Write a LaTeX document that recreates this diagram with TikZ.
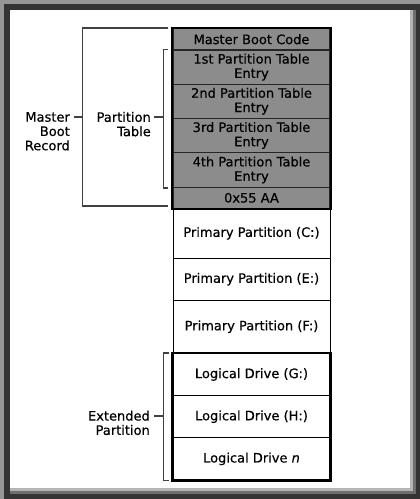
\documentclass[tikz,border=0pt]{standalone}
\usepackage{fontspec}
\setmainfont{DejaVu Sans}[BoldFont=DejaVu Sans,BoldFeatures={FakeBold=0.5},
  BoldItalicFont=DejaVu Sans Oblique,BoldItalicFeatures={FakeBold=0.5}]
\usetikzlibrary{calc,positioning}
\definecolor{DiskGray}{RGB}{140,140,140}
\definecolor{BraceGray}{RGB}{64,64,64}
\definecolor{FrameDark}{RGB}{52,52,52}
\definecolor{FrameMid}{RGB}{110,110,110}
\definecolor{FrameGray}{RGB}{150,150,150}
\definecolor{FrameLight}{RGB}{180,180,180}

\begin{document}
\begin{tikzpicture}[x=1pt,y=-1pt,
    cell/.style={draw=black,line width=1pt,minimum width=157pt,inner sep=0pt,
      align=center,font=\fontsize{13}{14.3}\selectfont\bfseries},
    mbrcell/.style={cell,fill=DiskGray,draw=black!85,line width=1.3pt},
    group/.style={draw=black,line width=2.2pt},
    brk/.style={BraceGray,line width=1.6pt},
    lbl/.style={align=right,inner sep=0pt,font=\fontsize{13}{14.3}\selectfont\bfseries}]
  \useasboundingbox (0,0) rectangle (420,499);
  % frame
  \fill[FrameDark] (0,0) rectangle (420,499);
  \fill[FrameGray] (0,0) rectangle (420,4);
  \fill[FrameGray] (0,0) rectangle (4,499);
  \fill[FrameMid] (10,10) rectangle (416,494);
  \fill[FrameLight] (10,10) rectangle (413,491);
  \fill[white] (10,10) rectangle (410,488);
  % master boot record
  \node[mbrcell,minimum height=21.5pt] (mbc) at (251.5,39.25) {Master Boot Code};
  \node[mbrcell,minimum height=34.3pt] (pte1) at (251.5,67.15) {1st Partition Table\\Entry};
  \node[mbrcell,minimum height=34pt] (pte2) at (251.5,101.3) {2nd Partition Table\\Entry};
  \node[mbrcell,minimum height=34.4pt] (pte3) at (251.5,135.5) {3rd Partition Table\\Entry};
  \node[mbrcell,minimum height=34.6pt] (pte4) at (251.5,170) {4th Partition Table\\Entry};
  \node[mbrcell,minimum height=21pt] (sig) at (251.5,197.8) {0x55 AA};
  % primary partitions
  \node[cell,minimum height=50pt] (pc) at (251.5,233.3) {Primary Partition (C:)};
  \node[cell,minimum height=41.7pt] (pe) at (251.5,279.2) {Primary Partition (E:)};
  \node[cell,minimum height=53.3pt] (pf) at (251.5,326.7) {Primary Partition (F:)};
  % logical drives
  \node[cell,minimum height=42.4pt] (lg) at (251.5,374.5) {Logical Drive (G:)};
  \node[cell,minimum height=42pt] (lh) at (251.5,416.7) {Logical Drive (H:)};
  \node[cell,minimum height=42.3pt] (ln) at (251.5,458.9) {Logical Drive \textit{n}};
  \draw[group] (mbc.north west) rectangle (sig.south east);
  \draw[group] (lg.north west) rectangle (ln.south east);
  % brackets
  \draw[brk] ([xshift=-4pt]mbc.north west) -| ([xshift=-90pt,yshift=3pt]sig.south west)
    -- ([xshift=-4pt,yshift=3pt]sig.south west);
  \coordinate (mbrmid) at (83,117);
  \draw[brk] (mbrmid) -- ++(-9,0) coordinate (mbrend);
  \node[lbl,anchor=east] (mbr) at ([xshift=-4pt,yshift=-14.3pt]mbrend) {Master\\Boot\\Record};
  \draw[brk] ([xshift=-4pt]pte1.north west) -| ([xshift=-9pt]pte4.south west)
    -- ([xshift=-4pt]pte4.south west);
  \coordinate (ptmid) at (164,117);
  \draw[brk] (ptmid) -- ++(-10,0) coordinate (ptend);
  \node[lbl,anchor=east] (pt) at ([xshift=-3pt,yshift=-7.15pt]ptend) {Partition\\Table};
  \draw[brk] ([xshift=-4pt]lg.north west) -| ([xshift=-9pt]ln.south west)
    -- ([xshift=-4pt]ln.south west);
  \coordinate (extmid) at (164,415.7);
  \draw[brk] (extmid) -- ++(-10,0) coordinate (extend);
  \node[lbl,anchor=east] (ext) at ([xshift=-4pt,yshift=-7.15pt]extend) {Extended\\Partition};
\end{tikzpicture}
\end{document}
